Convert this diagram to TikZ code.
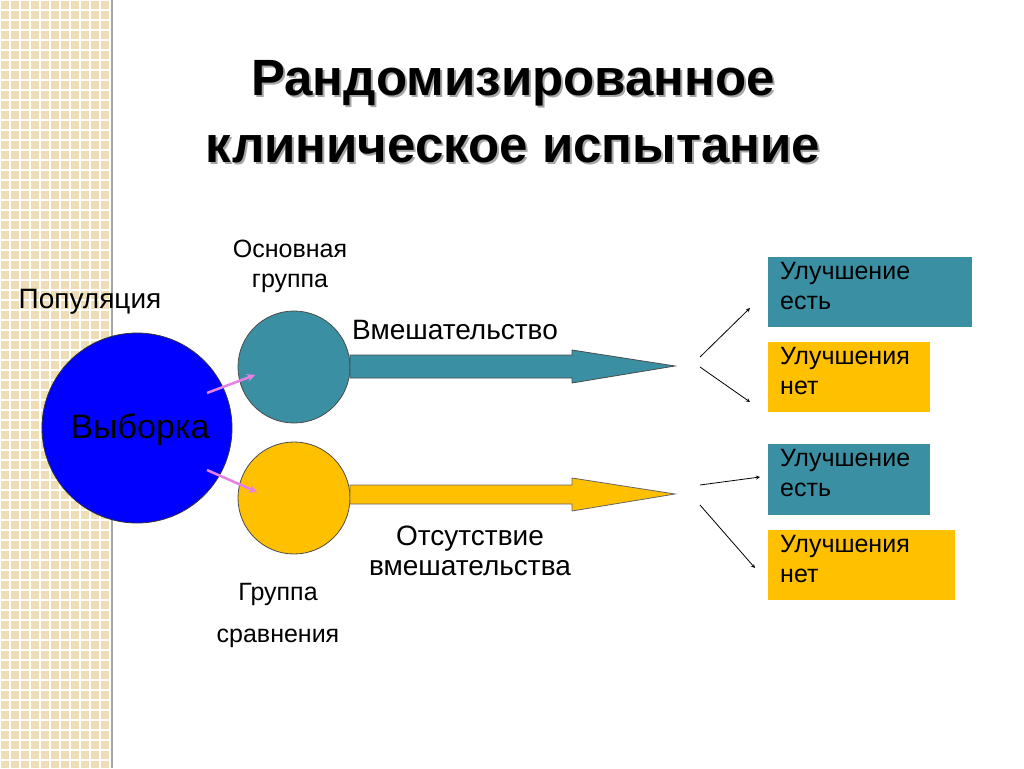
\documentclass[tikz,border=0pt]{standalone}
\usepackage{fontspec}
\setmainfont{Liberation Sans}
\usetikzlibrary{positioning}
\definecolor{tealc}{HTML}{3A8FA3}
\definecolor{goldc}{HTML}{FFC000}
\definecolor{stripc}{HTML}{EFDDB8}
\tikzset{
    grp/.style={
           circle,
           draw=black!70, thick,
           minimum size=112pt,
           inner sep=0pt,
           },
}
\tikzset{
    res/.style={
           rectangle,
           align=left,
           anchor=north west,
           font=\fontsize{25}{30}\selectfont,
           inner sep=0pt,
           },
}
\tikzset{
    lbl/.style={
           align=center,
           font=\fontsize{25}{30}\selectfont,
           },
}
\begin{document}
\begin{tikzpicture}[x=1pt,y=-1pt]
\useasboundingbox (0,0) rectangle (1024,768);
% textured strip
\fill[stripc] (0,0) rectangle (112,768);
\foreach \g in {0,10,...,110} \draw[white,line width=1.5pt] (\g,0) -- (\g,768);
\foreach \g in {0,10,...,760} \draw[white,line width=1.5pt] (0,\g) -- (112,\g);
\draw[black!35,line width=2pt] (112,0) -- (112,768);
% title
\node[black!35,font=\bfseries\fontsize{51}{67}\selectfont,align=center] at (515,114) {Рандомизированное\\клиническое испытание};
\node (title)[font=\bfseries\fontsize{51}{67}\selectfont,align=center] at (513,112) {Рандомизированное\\клиническое испытание};
% circles
\node (sample)[circle,draw=black!80,thick,fill=blue,minimum size=190pt] at (137,428) {};
\node at (140,430) {\fontsize{34}{36}\selectfont Выборка};
\node (pop)[lbl,font=\fontsize{28}{30}\selectfont] at (90,302) {Популяция};
\node (main)[grp,fill=tealc] at (294,367) {};
\node (ctrl)[grp,fill=goldc] at (294,498) {};
% big arrows
\fill[tealc,draw=black!70,thick] (350,355) -- (572,355) -- (572,350) -- (675,366) -- (572,383) -- (572,378) -- (350,378) -- cycle;
\fill[goldc,draw=black!60,thick] (350,485) -- (572,485) -- (572,478) -- (675,494) -- (572,511) -- (572,504) -- (350,504) -- cycle;
\coordinate (tipA) at (700,357);
\coordinate (tipB) at (700,367);
\coordinate (tipC) at (700,485);
\coordinate (tipD) at (700,505);
% pink arrows
\coordinate (pa) at (207,393); \coordinate (pb) at (255,375);
\coordinate (pc) at (207,470); \coordinate (pd) at (257,492);
\draw[->,>=stealth,violet!40!magenta!50,line width=2.5pt] (pa) -- (pb);
\draw[->,>=stealth,violet!40!magenta!50,line width=2.5pt] (pc) -- (pd);
% result boxes
\node (r1)[res,fill=tealc,minimum width=204pt,minimum height=70pt] at (768,257) {};
\node[res] at (780,262) {Улучшение\\есть};
\node (r2)[res,fill=goldc,minimum width=162pt,minimum height=70pt] at (768,342) {};
\node[res] at (780,347) {Улучшения\\нет};
\node (r3)[res,fill=tealc,minimum width=162pt,minimum height=71pt] at (768,444) {};
\node[res] at (780,449) {Улучшение\\есть};
\node (r4)[res,fill=goldc,minimum width=187pt,minimum height=70pt] at (768,530) {};
\node[res] at (780,535) {Улучшения\\нет};
\draw[->,>=stealth,thick] (tipA) -- (750,308);
\draw[->,>=stealth,thick] (tipB) -- (750,402);
\draw[->,>=stealth,thick] (tipC) -- (760,477);
\draw[->,>=stealth,thick] (tipD) -- (755,568);
% labels
\node[lbl] at (290,266) {Основная\\группа};
\node[lbl,font=\fontsize{28}{30}\selectfont] at (455,330) {Вмешательство};
\node[lbl,font=\fontsize{28}{30}\selectfont] at (470,551) {Отсутствие\\вмешательства};
\node[lbl] at (278,594) {Группа};
\node[lbl] at (278,638) {сравнения};
\end{tikzpicture}
\end{document}
